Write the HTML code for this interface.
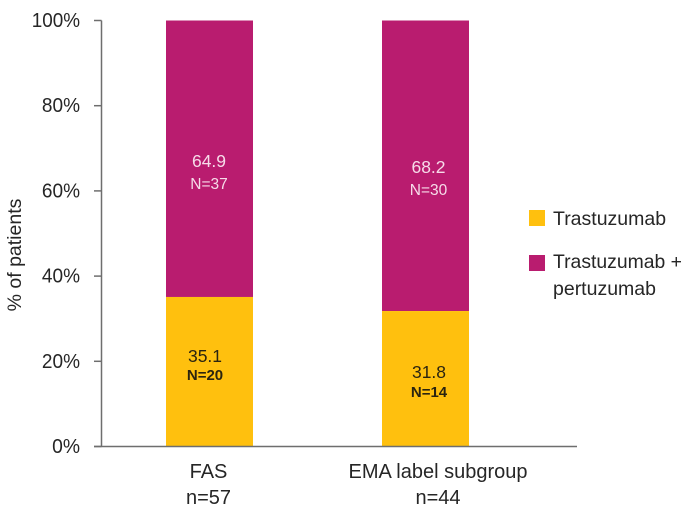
<!DOCTYPE html>
<html lang="en">
<head>
<meta charset="utf-8">
<title>Stacked bar chart of treatment by patient group</title>
<style>
html,body{margin:0;padding:0;background:#fff;width:685px;height:509px;overflow:hidden}
svg{display:block;font-family:"Liberation Sans",sans-serif}
text{filter:blur(0.3px)}
</style>
</head>
<body>
<svg id="chart" width="685" height="509" viewBox="0 0 685 509" xmlns="http://www.w3.org/2000/svg"></svg>
<script>
const categories = ['FAS', 'EMA label subgroup'];
const categoryCounts = ['n=57', 'n=44'];
const trastuzumabValues = [35.1, 31.8];
const combinationValues = [64.9, 68.2];
const trastuzumabCounts = ['N=20', 'N=14'];
const combinationCounts = ['N=37', 'N=30'];
const tickValues = [0, 20, 40, 60, 80, 100];

const svg = document.getElementById('chart');
const NS = 'http://www.w3.org/2000/svg';
const plot = {left: 101.5, right: 577, top: 20.5, bottom: 446.5};
const barWidth = 87;
const yellow = '#FFC00E', magenta = '#B91C6F', ink = '#262626', axisColor = '#6e6e6e';

const yScale = v => plot.bottom - (v / 100) * (plot.bottom - plot.top);
const xScale = i => 209.5 + i * 216;

function add(tag, attrs, text) {
  const el = document.createElementNS(NS, tag);
  for (const k in attrs) el.setAttribute(k, attrs[k]);
  if (text !== undefined) el.textContent = text;
  svg.appendChild(el);
  return el;
}

// Label nudges relative to each segment's centre
const magentaNudge = [{dx: -0.5, value: 8.3, count: 30.3}, {dx: 3, value: 7, count: 29}];
const yellowNudge = [{dx: -4.5, value: -9.7, count: 8.3}, {dx: 3.5, value: -1, count: 18}];
const categoryNudge = [-1, 12.5];

categories.forEach((cat, i) => {
  const x = xScale(i) - barWidth / 2;
  const yMid = yScale(trastuzumabValues[i]);
  const yTop = yScale(trastuzumabValues[i] + combinationValues[i]);

  const magentaBar = add('rect', {x: x, y: yTop, width: barWidth, height: yMid - yTop, fill: magenta});
  
  

  const yellowBar = add('rect', {x: x, y: yMid, width: barWidth, height: plot.bottom - yMid, fill: yellow});
  
  

  const mc = (yTop + yMid) / 2, mn = magentaNudge[i];
  const t1 = add('text', {x: xScale(i) + mn.dx, y: mc + mn.value, 'text-anchor': 'middle', 'font-size': 17.5, fill: '#f6dce9'}, combinationValues[i].toFixed(1));
  
  
  const t2 = add('text', {x: xScale(i) + mn.dx, y: mc + mn.count, 'text-anchor': 'middle', 'font-size': 15.5, fill: '#f6dce9'}, combinationCounts[i]);
  
  

  const yc = (yMid + plot.bottom) / 2, yn = yellowNudge[i];
  const t3 = add('text', {x: xScale(i) + yn.dx, y: yc + yn.value, 'text-anchor': 'middle', 'font-size': 17.5, fill: '#2b2410'}, trastuzumabValues[i].toFixed(1));
  
  
  const t4 = add('text', {x: xScale(i) + yn.dx, y: yc + yn.count, 'text-anchor': 'middle', 'font-size': 15, 'font-weight': 'bold', fill: '#2b2410'}, trastuzumabCounts[i]);
  
  

  const c1 = add('text', {x: xScale(i) + categoryNudge[i], y: 478, 'text-anchor': 'middle', 'font-size': 20, fill: ink}, cat);
  
  
  const c2 = add('text', {x: xScale(i) + categoryNudge[i], y: 504, 'text-anchor': 'middle', 'font-size': 20, fill: ink}, categoryCounts[i]);
  
  
});

// Axes
const yAxis = add('line', {x1: plot.left, x2: plot.left, y1: plot.top, y2: plot.bottom, stroke: axisColor, 'stroke-width': 1.5});


const xAxis = add('line', {x1: 94, x2: plot.right, y1: plot.bottom, y2: plot.bottom, stroke: axisColor, 'stroke-width': 1.5});



tickValues.forEach(v => {
  const tick = add('line', {x1: 94, x2: plot.left, y1: yScale(v), y2: yScale(v), stroke: axisColor, 'stroke-width': 1.5});
  
  
  const label = add('text', {x: 80, y: yScale(v) + 6.5, 'text-anchor': 'end', 'font-size': 20.5, textLength: (v + '%').length * 10.2 + 7.5, lengthAdjust: 'spacingAndGlyphs', fill: ink}, v + '%');
  
  
});

const yTitle = add('text', {x: 0, y: 0, transform: 'translate(21 255) rotate(-90)', 'text-anchor': 'middle', 'font-size': 19.5, fill: ink}, '% of patients');


</script>
<svg width="160" height="120" viewBox="525 200 160 120" style="position:absolute;left:525px;top:200px;font-family:'Liberation Sans',sans-serif" xmlns="http://www.w3.org/2000/svg">
  <rect x="529" y="210" width="16" height="16" fill="#FFC00E"/>
  <text x="553" y="225" font-size="19.5" fill="#262626">Trastuzumab</text>
  <rect x="529" y="255" width="16" height="16" fill="#B91C6F"/>
  <text x="553" y="268" font-size="19.5" textLength="129" lengthAdjust="spacingAndGlyphs" fill="#262626">Trastuzumab +</text>
  <text x="553" y="295" font-size="19.5" fill="#262626">pertuzumab</text>
</svg>
</body>
</html>
